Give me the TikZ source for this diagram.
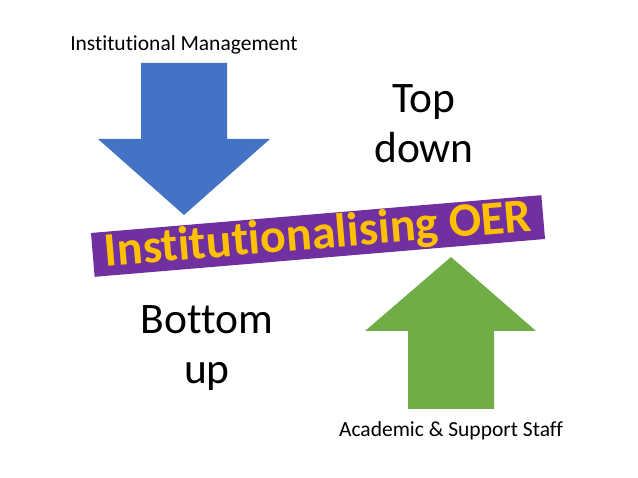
\documentclass[tikz,border=0pt]{standalone}
\usepackage{fontspec}
\setmainfont[Ligatures={NoCommon}]{Carlito}
\definecolor{arrowblue}{HTML}{4472C4}
\definecolor{arrowgreen}{HTML}{70AD47}
\definecolor{bannerpurple}{HTML}{7030A0}
\definecolor{banneryellow}{HTML}{FFC000}
\begin{document}
\begin{tikzpicture}[x=1pt,y=-1pt,
  smalllabel/.style={font=\fontsize{21.5}{24}\selectfont, text=black, inner sep=0pt, anchor=base},
  biglabel/.style={font=\fontsize{43.5}{50}\selectfont, text=black, inner sep=0pt, align=center},
  banner/.style={fill=bannerpurple, text=banneryellow, font=\fontsize{48}{48}\selectfont\bfseries,
    minimum width=452pt, minimum height=44pt, inner sep=0pt, rotate=4.8}]
\useasboundingbox (0,0) rectangle (638,478);
% blue down arrow
\fill[arrowblue] (141,63) -- (227,63) -- (227,139) -- (270,139) -- (184,215) -- (98,139) -- (141,139) -- cycle;
% green up arrow
\fill[arrowgreen] (408,409) -- (494,409) -- (494,331) -- (536,331) -- (451,257) -- (365,331) -- (408,331) -- cycle;
\node[banner] (oer) at (318,236) {Institutionalising OER};
\node[smalllabel] (mgmt) at (184,51) {Institutional Management};
\node[smalllabel] (staff) at (451,437) {Academic \& Support Staff};
\node[biglabel] (top) at (424,124) {Top\\down};
\node[biglabel] (bottom) at (207,348) {Bottom\\up};
\end{tikzpicture}
\end{document}
